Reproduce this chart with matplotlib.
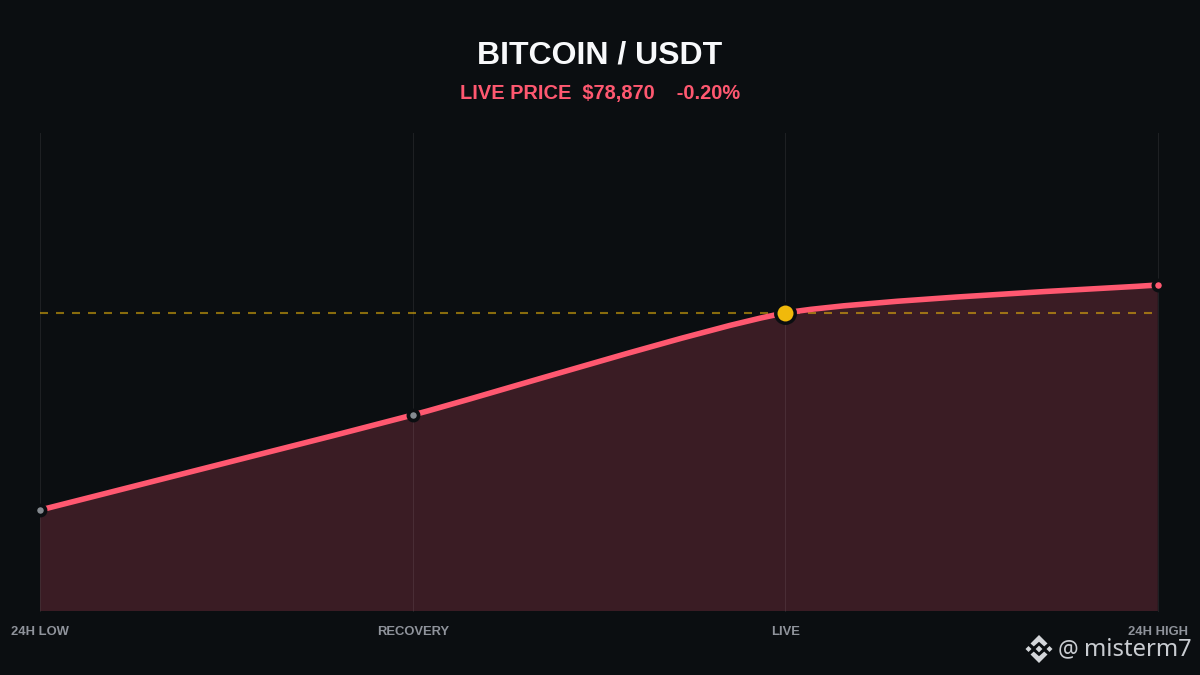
import matplotlib
matplotlib.use("Agg")
import matplotlib.pyplot as plt
from matplotlib.patches import PathPatch, Polygon
from matplotlib.path import Path

# ---- data ----
stages = ["24H LOW", "RECOVERY", "LIVE", "24H HIGH"]
stage_pos = [0, 1, 2, 3]
prices = [76900, 77850, 78870, 79150]
live_price = 78870
floor_price = 75890
ceil_price = 80670
title = "BITCOIN / USDT"
subtitle = "LIVE PRICE  $78,870    -0.20%"
watermark_at = "@"
watermark_name = "misterm7"

BG = "#0b0e11"
RED = "#ff5870"
FILL = "#3a1c24"
GOLD = "#f0b90b"
GREY = "#8f939b"

W, H = 1200, 675
L, R, T, B = 40.2, 1157.8, 133, 611

fig = plt.figure(figsize=(12, 6.75), dpi=100, facecolor=BG)
ax = fig.add_axes([L / W, 1 - B / H, (R - L) / W, (B - T) / H], facecolor=BG)
ax.set_xlim(0, 3)
ax.set_ylim(floor_price, ceil_price)
for s in ax.spines.values():
    s.set_visible(False)

TENSION = 0.2


def smooth_path(xs, ys):
    """Cardinal-spline path through the data, low tension."""
    n = len(xs)
    verts = [(xs[0], ys[0])]
    codes = [Path.MOVETO]
    for i in range(n - 1):
        a = max(i - 1, 0)
        b = min(i + 2, n - 1)
        verts += [(xs[i] + TENSION * (xs[i + 1] - xs[a]) / 2, ys[i] + TENSION * (ys[i + 1] - ys[a]) / 2),
                  (xs[i + 1] - TENSION * (xs[b] - xs[i]) / 2, ys[i + 1] - TENSION * (ys[b] - ys[i]) / 2),
                  (xs[i + 1], ys[i + 1])]
        codes += [Path.CURVE4] * 3
    return verts, codes


verts, codes = smooth_path(stage_pos, prices)

# area
area_verts = verts + [(stage_pos[-1], floor_price), (stage_pos[0], floor_price), (stage_pos[0], prices[0])]
area_codes = codes + [Path.LINETO, Path.LINETO, Path.CLOSEPOLY]
ax.add_patch(PathPatch(Path(area_verts, area_codes), facecolor=FILL, edgecolor="none", zorder=1))

# vertical guides
for x in stage_pos:
    ax.axvline(x, color="#ffffff", alpha=0.08, lw=0.75, zorder=2, clip_on=False)

# live price level
ax.plot([stage_pos[0], stage_pos[-1]], [live_price, live_price], color=GOLD, alpha=0.55, lw=1.5,
        dashes=(3.84, 3.84), zorder=3)

# price curve
ax.add_patch(PathPatch(Path(verts, codes), facecolor="none", edgecolor=RED, lw=4.0, capstyle="round", zorder=4))

# markers
ax.plot(stage_pos[:2], prices[:2], ls="none", marker="o", ms=7.35, mfc="#858a90", mec=BG,
        mew=2.65, zorder=5, clip_on=False)
ax.plot(stage_pos[2], prices[2], ls="none", marker="o", ms=14.0, mfc=GOLD, mec=BG,
        mew=2.5, zorder=6, clip_on=False)
ax.plot(stage_pos[3], prices[3], ls="none", marker="o", ms=7.35, mfc=RED, mec=BG,
        mew=2.65, zorder=5, clip_on=False)

# axis labels
ax.set_yticks([])
ax.set_xticks(stage_pos)
ax.set_xticklabels(stages, family="Liberation Sans", fontweight="bold", fontsize=9.4, color=GREY)
ax.tick_params(axis="x", length=0, pad=11)

# titles
fig.text(0.5, 1 - 55 / H, title, ha="center", va="center", color="#f8f9fb",
         family="Liberation Sans", fontweight="bold", fontsize=23)
fig.text(0.5, 1 - 93.5 / H, subtitle, ha="center", va="center", color=RED,
         family="Liberation Sans", fontweight="bold", fontsize=14.4)

# watermark
fig.text(1192 / W, 1 - 650 / H, watermark_name, ha="right", va="center", color="#c9ccd1",
         family="Noto Sans", fontsize=17.2)
fig.text(1058 / W, 1 - 650 / H, watermark_at, ha="left", va="center", color="#c9ccd1",
         family="Noto Sans", fontsize=16.5)

# logo of the watermark
cx, cy = 1039, 649
def diamond(dx, dy, r):
    return [((cx + dx + a) / W, 1 - (cy + dy + b) / H) for a, b in [(0, -r), (r, 0), (0, r), (-r, 0)]]
LOGO = "#d4d6da"
for dx, dy, r in [(0, 0, 3.4), (-10.5, 0, 3.0), (10.5, 0, 3.0)]:
    fig.add_artist(Polygon(diamond(dx, dy, r), closed=True, transform=fig.transFigure, fc=LOGO, ec="none"))
def chevron(sign):
    pts = [(0, -14), (8.5, -5.5), (5.2, -2.6), (0, -7.2), (-5.2, -2.6), (-8.5, -5.5)]
    return [((cx + a) / W, 1 - (cy + sign * b) / H) for a, b in pts]
for sign in (1, -1):
    fig.add_artist(Polygon(chevron(sign), closed=True, transform=fig.transFigure, fc=LOGO, ec="none"))

fig.savefig("out.png", dpi=100, facecolor=BG)
